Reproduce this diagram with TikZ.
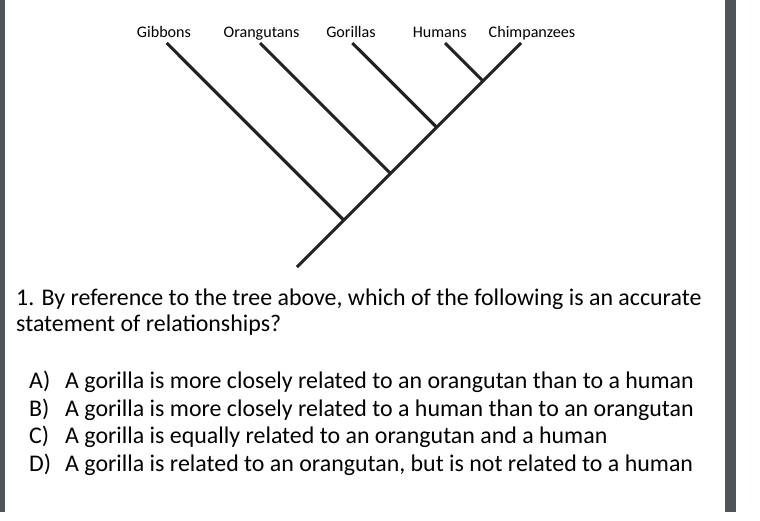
\documentclass[tikz,border=0pt]{standalone}
\usepackage{fontspec}
\setmainfont{Carlito}
\definecolor{barcol}{HTML}{505457}
\definecolor{treecol}{HTML}{222222}
\begin{document}
\begin{tikzpicture}[x=1pt,y=-1pt,
  branch/.style={draw=treecol,line width=3.1pt},
  taxon/.style={anchor=base,inner sep=0pt,font=\fontsize{16.1}{18}\selectfont},
  qtext/.style={anchor=base west,inner sep=0pt,font=\fontsize{23.9}{28}\selectfont},
  bar/.style={fill=barcol,draw=none}]
\useasboundingbox[fill=white] (0,0) rectangle (760,520);
\fill[bar] (0,0) rectangle (5,512);
\fill[bar] (725,0) rectangle (736,512);
% tree coordinates
\coordinate (root) at (297,267);
\coordinate (tgib) at (166.7,43);
\coordinate (tora) at (260,43);
\coordinate (tgor) at (352.3,43);
\coordinate (thum) at (445,43);
\coordinate (tchi) at (521,43);
\coordinate (j1) at (343.8,220.2);
\coordinate (j2) at (390.5,173.5);
\coordinate (j3) at (436.7,127.3);
\coordinate (j4) at (483,81);
\draw[branch] (root) -- (tchi);
\draw[branch] (tgib) -- (j1);
\draw[branch] (tora) -- (j2);
\draw[branch] (tgor) -- (j3);
\draw[branch] (thum) -- (j4);
% labels
\node[taxon] (lgib) at (164,37.3) {Gibbons};
\node[taxon] (lora) at (261.5,37.3) {Orangutans};
\node[taxon] (lgor) at (351,37.3) {Gorillas};
\node[taxon] (lhum) at (439.7,37.3) {Humans};
\node[taxon] (lchi) at (532,37.3) {Chimpanzees};
% question
\node[qtext] (q1) at (16,305) {1. By reference to the tree above, which of the following is an accurate};
\node[qtext] (q2) at (16,331.7) {statement of relationships?};
\node[qtext] (la) at (29,388.3) {A)};
\node[qtext] (ta) at (65,388.3) {A gorilla is more closely related to an orangutan than to a human};
\node[qtext] (lb) at (29,416) {B)};
\node[qtext] (tb) at (65,416) {A gorilla is more closely related to a human than to an orangutan};
\node[qtext] (lc) at (29,443.5) {C)};
\node[qtext] (tc) at (65,443.5) {A gorilla is equally related to an orangutan and a human};
\node[qtext] (ld) at (29,471) {D)};
\node[qtext] (td) at (65,471) {A gorilla is related to an orangutan, but is not related to a human};
\end{tikzpicture}
\end{document}
